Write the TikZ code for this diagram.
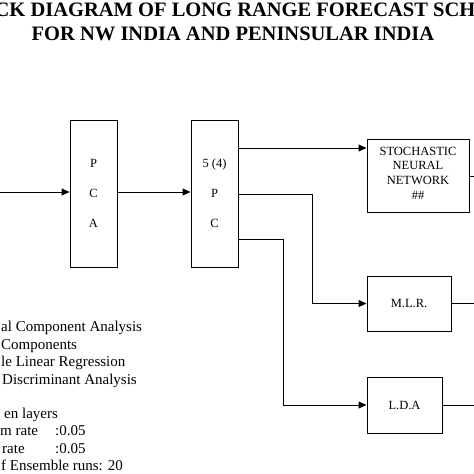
\documentclass[tikz,border=0pt]{standalone}
\usepackage{fontspec}
\setmainfont{Liberation Serif}
\usetikzlibrary{arrows.meta}
\begin{document}
\begin{tikzpicture}[x=1pt,y=-1pt,
  box/.style={draw,line width=1pt,inner sep=0pt},
  conn/.style={line width=1pt},
  arr/.style={conn,-{Triangle[length=8pt,width=7pt]}},
  boxtext/.style={font=\fontsize{12.5}{14.7}\selectfont,align=center},
  tall/.style={font=\fontsize{12.5}{30}\selectfont,align=center},
  title/.style={font=\fontsize{20.5}{24}\selectfont\bfseries,anchor=base},
  legend/.style={font=\fontsize{15}{17.5}\selectfont,anchor=base west,inner sep=0pt}]
\useasboundingbox (0,0) rectangle (474,474);
% title
\node[title] (t1) at (235,16.7) {CK DIAGRAM OF LONG RANGE FORECAST SCH};
\node[title] (t2) at (233,40) {FOR NW INDIA AND PENINSULAR INDIA};
% boxes
\node[box,minimum width=47pt,minimum height=147pt] (pca) at (93.5,193.5) {};
\node[tall] (pcat) at (93.5,193) {P\\C\\A};
\node[box,minimum width=47pt,minimum height=147pt] (pc) at (214.5,193.5) {};
\node[tall] (pct) at (214.5,193) {5 (4)\\P\\C};
\node[box,minimum width=102pt,minimum height=73pt] (snn) at (418,175.5) {};
\node[boxtext] (snnt) at (418,173) {STOCHASTIC\\NEURAL\\NETWORK\\\#\#};
\node[box,minimum width=84pt,minimum height=55pt] (mlr) at (409,303.5) {};
\node[boxtext] (mlrt) at (409,303.5) {M.L.R.};
\node[box,minimum width=75pt,minimum height=56pt] (lda) at (404.5,405) {};
\node[boxtext] (ldat) at (404.5,405) {L.D.A};
% free ends
\coordinate (in) at (0,192);
\coordinate (oS) at (474,176);
\coordinate (oM) at (474,303);
\coordinate (oL) at (474,405);
% connectors
\draw[arr] (in) -- (in -| pca.west);
\draw[arr] (pca.east |- in) -- (pc.west |- in);
\draw[arr] (pc.east |- 0,148) -- (snn.west |- 0,148);
\draw[arr] (pc.east |- 0,194) -- (312,194) |- (mlr.west);
\draw[arr] (pc.east |- 0,239) -- (283,239) |- (lda.west);
\draw[conn] (snn.east |- oS) -- (oS);
\draw[conn] (mlr.east |- oM) -- (oM);
\draw[conn] (lda.east |- oL) -- (oL);
% legend
\node[legend] (l1) at (1,331.7) {al Component Analysis};
\node[legend] (l2) at (1,349) {Components};
\node[legend] (l3) at (1,366.7) {le Linear Regression};
\node[legend] (l4) at (2,384) {Discriminant Analysis};
\node[legend] (l5) at (4,418) {en layers};
\node[legend] (l6) at (0,435.7) {\makebox[55pt][l]{m rate}:0.05};
\node[legend] (l7) at (2,453) {\makebox[53pt][l]{rate}:0.05};
\node[legend] (l8) at (1,470.7) {f Ensemble runs: 20};
\end{tikzpicture}
\end{document}
